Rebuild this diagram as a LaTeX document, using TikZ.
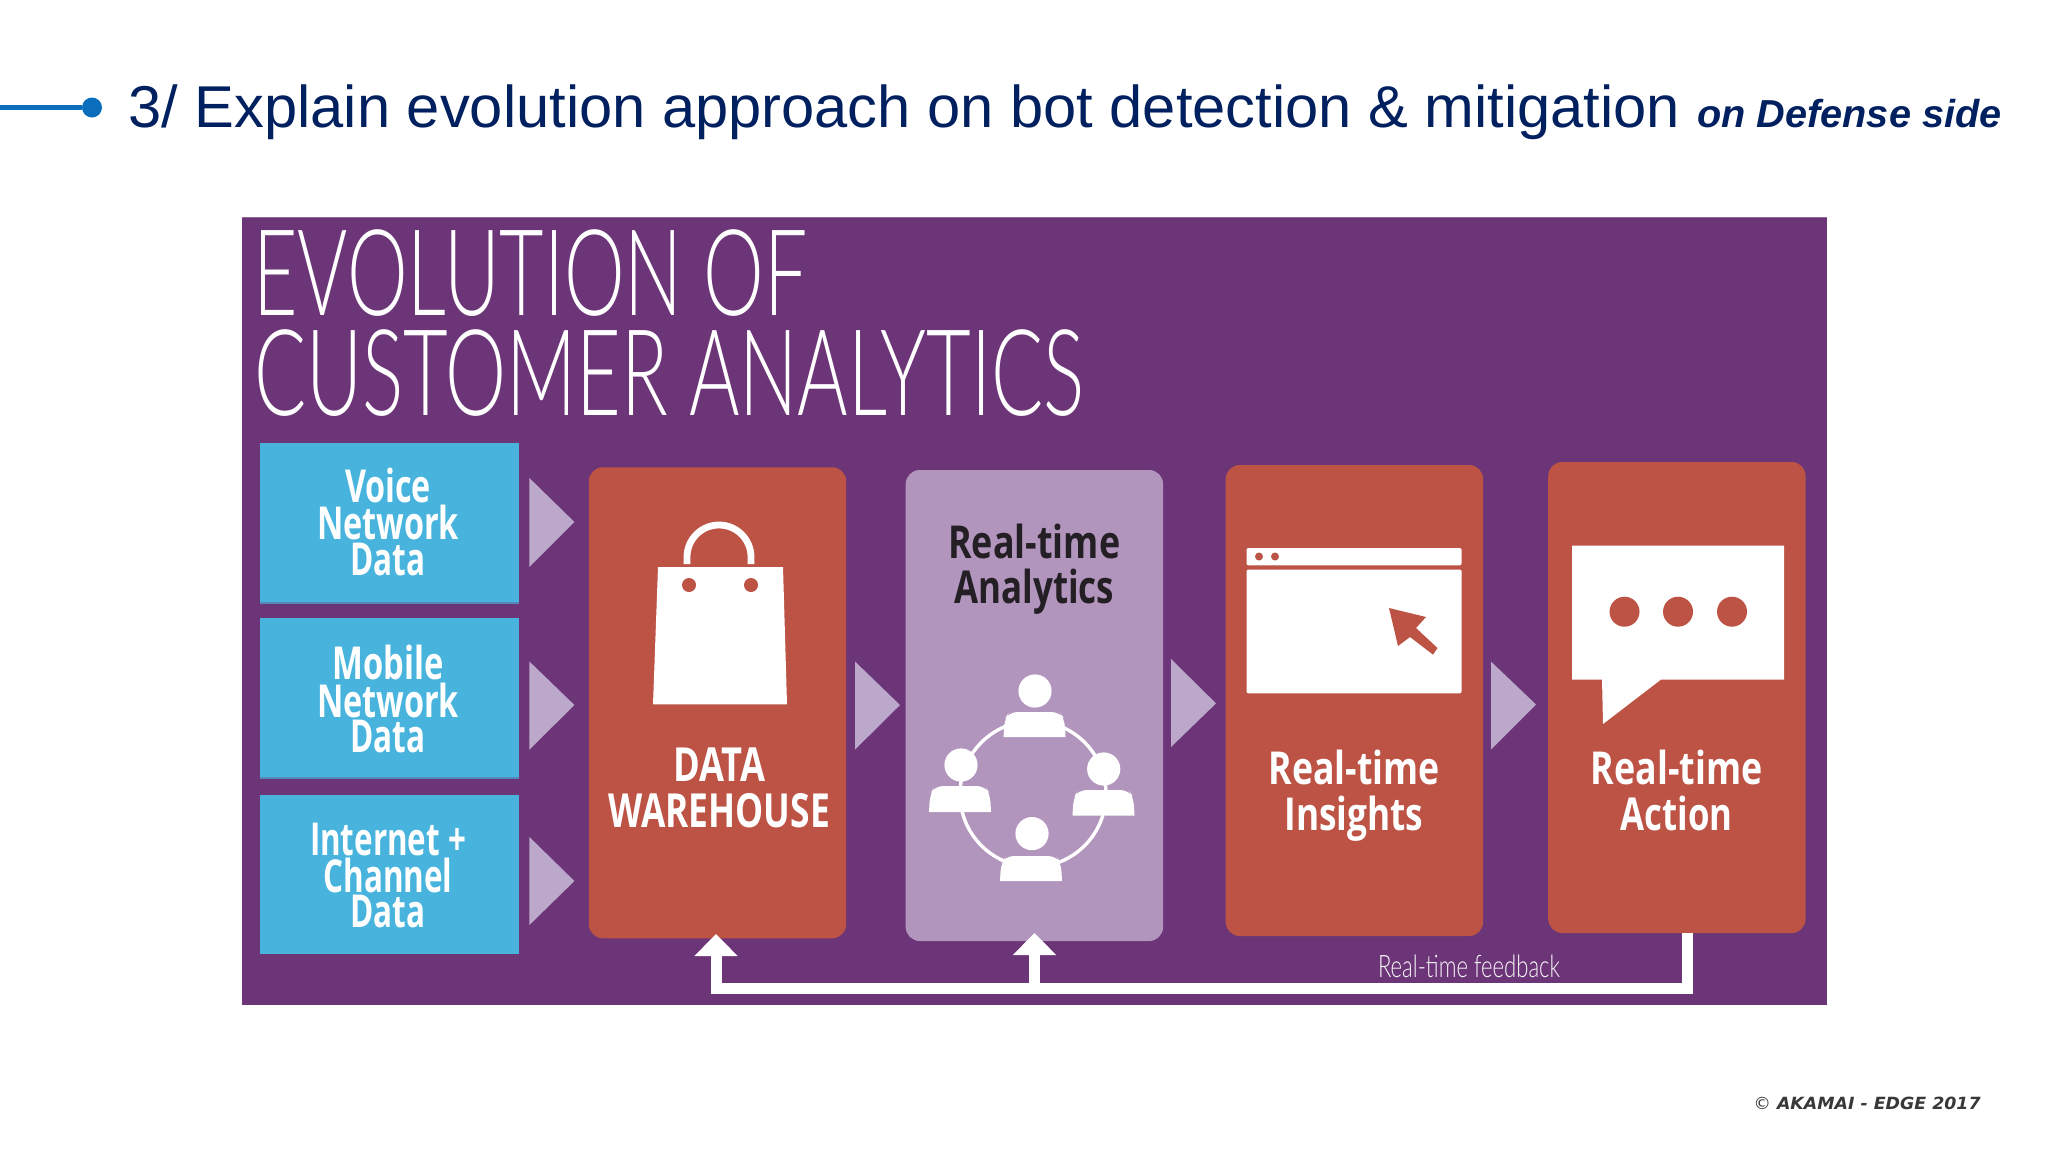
\documentclass[tikz,border=0pt]{standalone}
\usepackage{fontspec}
\usepackage{graphicx}
\usetikzlibrary{arrows.meta}
\setmainfont{Liberation Sans}
\newfontfamily\opensans{Open Sans}
\newfontfamily\thinfont[UprightFont={* Light}]{Lato}
\newfontfamily\dejavu{DejaVu Sans}
\definecolor{panelc}{HTML}{6C3577}
\definecolor{bluec}{HTML}{48B4DE}
\definecolor{redc}{HTML}{BC5345}
\definecolor{lavc}{HTML}{B295BC}
\definecolor{tric}{HTML}{BCA8CB}
\definecolor{navyc}{HTML}{002060}
\definecolor{linec}{HTML}{0A6EBD}
\newcommand\fw[2]{\resizebox{#1pt}{\height}{#2}}
\newcommand\trip[4]{\fill[tric] (#1,#2) -- ({#1+45},#3) -- (#1,#4) -- cycle;}
\newcommand\personbody[3]{\fill[white] (#1,#3) [rounded corners=4pt] -- ({#1+1},{#3-18}) -- ({#1+6},#2) -- ({#1+56},#2) -- ({#1+61},{#3-18}) [sharp corners] -- ({#1+62},#3) -- cycle;}
\tikzset{
  x=0.5pt,y=-0.5pt,
  boxb/.style={inner sep=0pt,outer sep=0pt},
  bluebox/.style={boxb,fill=bluec,minimum width=129.2pt},
  redbox/.style={boxb,fill=redc,rounded corners=7pt,minimum width=128.7pt,minimum height=235.5pt},
  lavbox/.style={boxb,fill=lavc,rounded corners=7pt,minimum width=128.7pt,minimum height=235.5pt},
  lbl/.style={inner sep=0pt,anchor=base,text=white,font=\opensans\bfseries\fontsize{22.7}{24}\selectfont},
  darklbl/.style={lbl,text=black!80!lavc},
  head/.style={inner sep=0pt,anchor=base west,text=white,font=\thinfont\fontsize{60}{60}\selectfont},
  feedback/.style={-{Triangle[length=11pt,width=21pt]},draw=white,line width=5.5pt}
}
\begin{document}
\begin{tikzpicture}
\useasboundingbox (0,0) rectangle (2048,1152);
\fill[white] (0,0) rectangle (2048,1152);
% slide title
\coordinate (ls) at (0,107.5);
\node[circle,fill=linec,minimum size=10pt,inner sep=0pt] (ld) at (92,107.5) {};
\draw[linec,line width=2.6pt] (ls) -- (ld);
\node[inner sep=0pt,anchor=base west,text=navyc,font=\fontsize{29.5}{30}\selectfont] (ttl) at (128,127) {\fw{776}{3/ Explain evolution approach on bot detection \& mitigation}};
\node[inner sep=0pt,anchor=base west,text=navyc,font=\bfseries\itshape\fontsize{19.5}{20}\selectfont] (ttl2) at (1697,127) {\fw{152}{on Defense side}};
% panel
\fill[panelc] (241.6,216.8) rectangle (1827,1004.5);
\fill[panelc!75!white] (241.6,216.8) rectangle (1827,218);
\node[head] (h1) at (253,315) {\fw{277}{EVOLUTION OF}};
\node[head] (h2) at (254,415) {\fw{415}{CUSTOMER ANALYTICS}};
% source boxes
\node[bluebox,minimum height=80.3pt] (b1) at (389.6,523.7) {};
\node[bluebox,minimum height=80.7pt] (b2) at (389.6,698.7) {};
\node[bluebox,minimum height=79.6pt] (b3) at (389.6,874.3) {};
\fill[bluec!65!panelc] (b1.south west) rectangle ([yshift=1.2pt]b1.south east);
\fill[bluec!65!panelc] (b2.south west) rectangle ([yshift=1.2pt]b2.south east);
\node[lbl] (v1) at (388,502) {\fw{43}{Voice}};
\node[lbl] (v2) at (388,539) {\fw{71}{Network}};
\node[lbl] (v3) at (388,575) {\fw{37.5}{Data}};
\node[lbl] (m1) at (388,679.5) {\fw{55.5}{Mobile}};
\node[lbl] (m2) at (388,717) {\fw{71}{Network}};
\node[lbl] (m3) at (388,752) {\fw{37.5}{Data}};
\node[lbl] (i1) at (388,855) {\fw{78}{Internet +}};
\node[lbl] (i2) at (388,892) {\fw{64.5}{Channel}};
\node[lbl] (i3) at (388,927) {\fw{37.5}{Data}};
% chevrons
\trip{529.4}{478}{522}{567}
\trip{529.4}{661.5}{705}{749.6}
\trip{529.4}{837}{881}{925}
\trip{855}{661.5}{705}{749.6}
\trip{1171}{659}{703.4}{747}
\trip{1491}{661.6}{704.5}{749.7}
% stages
\node[redbox] (dw) at (717.5,702.75) {};
\node[lavbox] (an) at (1034.4,705.5) {};
\node[redbox] (ins) at (1354.4,700.5) {};
\node[redbox] (act) at (1676.9,697.5) {};
% bag
\fill[white] (658,567) -- (783,567) -- (787,704.4) -- (653,704.4) -- cycle;
\draw[white,line width=3.4pt] (687,564) -- (687,557) arc[start angle=180,end angle=0,radius=16pt] -- (751,564);
\fill[redc] (689,585) circle[radius=3.5pt] (751,585) circle[radius=3.5pt];
\node[lbl,font=\opensans\bfseries\fontsize{23.5}{24}\selectfont] (d1) at (719,781) {\fw{46}{DATA}};
\node[lbl,font=\opensans\bfseries\fontsize{23.5}{24}\selectfont] (d2) at (719,827) {\fw{110.8}{WAREHOUSE}};
% analytics
\node[darklbl] (a1) at (1034.3,558) {\fw{86}{Real-time}};
\node[darklbl] (a2) at (1034.3,603.5) {\fw{80}{Analytics}};
\draw[white,line width=1.7pt] (1033,794) circle[radius=36.5pt];
\fill[white] (1035,691) circle[radius=8.3pt] (961,765) circle[radius=8.3pt] (1103.7,769) circle[radius=8.3pt] (1032,833.6) circle[radius=8.3pt];
\personbody{1003.5}{712}{737}
\personbody{929}{786}{812}
\personbody{1072.5}{790}{815.5}
\personbody{1000}{856}{881}
% insights
\fill[white,rounded corners=1pt] (1246.5,548) rectangle (1461.6,565.4);
\fill[white,rounded corners=1pt] (1246.5,569.5) rectangle (1461.6,693.4);
\fill[redc] (1259,556.5) circle[radius=2pt] (1275,556.5) circle[radius=2pt];
\fill[redc] (1389,608) -- (1426,617) -- (1416,628) -- (1437.5,648) -- (1433,654.6) -- (1410,637) -- (1398,646) -- cycle;
\node[lbl] (r1) at (1354,784) {\fw{85.5}{Real-time}};
\node[lbl] (r2) at (1354,830) {\fw{69.5}{Insights}};
% action
\fill[white] (1572,545.5) -- (1784,545.5) -- (1784,679.5) -- (1661,679.5) -- (1603,724) -- (1602,679.5) -- (1572,679.5) -- cycle;
\fill[redc] (1624.5,611.7) circle[radius=7.5pt] (1678,611.7) circle[radius=7.5pt] (1732,611.7) circle[radius=7.5pt];
\node[lbl] (t1) at (1676.7,784) {\fw{85.8}{Real-time}};
\node[lbl] (t2) at (1676.7,830) {\fw{56}{Action}};
% feedback
\coordinate (c1) at (1687,988.5);
\coordinate (c2) at (716,988.5);
\coordinate (c3) at (716,934);
\coordinate (c4) at (1034.5,988.5);
\coordinate (c5) at (1034.5,933);
\draw[feedback] (act.south -| c1) -- (c1) -- (c2) -- (c3);
\draw[feedback] (c4) -- (c5);
\node[inner sep=0pt,anchor=base,text=white!90!tric,font=\thinfont\fontsize{15.5}{16}\selectfont] (fb) at (1469,977) {\fw{91}{Real-time feedback}};
% footer
\node[inner sep=0pt,anchor=base east,text=black!78,font=\dejavu\bfseries\itshape\fontsize{8.4}{9}\selectfont] (ft) at (1981,1109.5) {\fw{113.5}{{\mdseries\upshape ©} AKAMAI - EDGE 2017}};
\end{tikzpicture}
\end{document}
